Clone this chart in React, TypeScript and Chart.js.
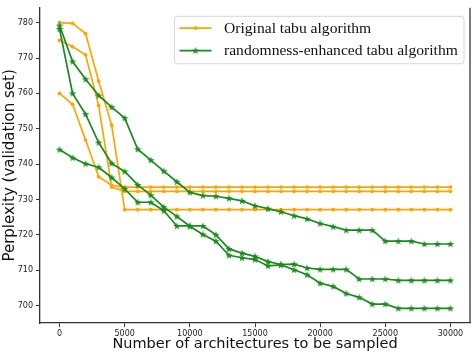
import React, { useEffect, useRef } from "react";
import { Chart, registerables } from "chart.js";

Chart.register(...registerables);

const xSamples = [
  0, 1000, 2000, 3000, 4000, 5000, 6000, 7000, 8000, 9000, 10000, 11000, 12000,
  13000, 14000, 15000, 16000, 17000, 18000, 19000, 20000, 21000, 22000, 23000,
  24000, 25000, 26000, 27000, 28000, 29000, 30000,
];
const xTickValues = [0, 5000, 10000, 15000, 20000, 25000, 30000];
const yTickValues = [700, 710, 720, 730, 740, 750, 760, 770, 780];

const legendLabels = ["Original tabu algorithm", "randomness-enhanced tabu algorithm"];

const originalA = [
  780.0, 779.8, 776.9, 763.5, 751.0, 727.1, 727.1, 727.1, 727.1, 727.1, 727.1,
  727.1, 727.1, 727.1, 727.1, 727.1, 727.1, 727.1, 727.1, 727.1, 727.1, 727.1,
  727.1, 727.1, 727.1, 727.1, 727.1, 727.1, 727.1, 727.1, 727.1,
];
const originalB = [
  775.0, 773.2, 770.9, 756.6, 733.5, 732.3, 732.3, 732.3, 732.3, 732.3, 732.3,
  732.3, 732.3, 732.3, 732.3, 732.3, 732.3, 732.3, 732.3, 732.3, 732.3, 732.3,
  732.3, 732.3, 732.3, 732.3, 732.3, 732.3, 732.3, 732.3, 732.3,
];
const originalC = [
  760.0, 756.9, 746.8, 736.4, 734.0, 733.5, 733.5, 733.5, 733.5, 733.5, 733.5,
  733.5, 733.5, 733.5, 733.5, 733.5, 733.5, 733.5, 733.5, 733.5, 733.5, 733.5,
  733.5, 733.5, 733.5, 733.5, 733.5, 733.5, 733.5, 733.5, 733.5,
];

const enhancedA = [
  779.2, 769.0, 764.0, 759.4, 756.1, 753.0, 744.2, 741.1, 738.0, 735.0, 732.0,
  731.1, 730.9, 730.3, 729.6, 728.2, 727.4, 726.5, 725.4, 724.5, 723.2, 722.3,
  721.3, 721.3, 721.3, 718.2, 718.2, 718.2, 717.4, 717.4, 717.4,
];
const enhancedB = [
  744.1, 741.8, 740.1, 739.1, 736.2, 733.0, 729.2, 729.2, 726.8, 722.5, 722.5,
  722.5, 720.0, 716.0, 714.8, 713.9, 712.4, 711.6, 711.7, 710.6, 710.2, 710.2,
  710.2, 707.5, 707.5, 707.5, 707.1, 707.1, 707.1, 707.1, 707.1,
];
const enhancedC = [
  778.2, 760.0, 754.1, 746.1, 740.2, 737.9, 734.1, 731.2, 727.8, 725.2, 722.4,
  720.1, 718.2, 714.2, 713.5, 713.0, 711.2, 711.5, 710.1, 708.7, 706.3, 705.4,
  703.4, 702.3, 700.4, 700.4, 699.2, 699.2, 699.2, 699.2, 699.2,
];

const ORANGE = "#FFA500";
const GREEN = "#1C8A1C";
const AXIS = "#333333";

function makeStar(color: string, size: number): HTMLCanvasElement {
  const c = document.createElement("canvas");
  c.width = size;
  c.height = size;
  const ctx = c.getContext("2d")!;
  const cx = size / 2;
  const cy = size / 2 + 0.3;
  const R = size / 2;
  const r = R * 0.382;
  ctx.beginPath();
  for (let k = 0; k < 10; k++) {
    const ang = -Math.PI / 2 + (k * Math.PI) / 5;
    const rad = k % 2 === 0 ? R : r;
    const px = cx + rad * Math.cos(ang);
    const py = cy + rad * Math.sin(ang);
    if (k === 0) ctx.moveTo(px, py);
    else ctx.lineTo(px, py);
  }
  ctx.closePath();
  ctx.fillStyle = color;
  ctx.fill();
  return c;
}

export default function App() {
  const ref = useRef<HTMLCanvasElement>(null);

  useEffect(() => {
    document.body.style.margin = "0";
    const star = makeStar(GREEN, 8);

    const mk = (ys: number[], color: string, green: boolean, label: string) => ({
      label,
      data: xSamples.map((x, i) => ({ x, y: ys[i] })),
      borderColor: color,
      backgroundColor: color,
      borderWidth: 1.7,
      pointStyle: green ? (star as any) : "circle",
      pointRadius: green ? 4 : 1.9,
      pointBorderWidth: 0,
      pointBackgroundColor: color,
      order: green ? 0 : 1,
      tension: 0,
      fill: false,
    });

    const datasets = [
      mk(originalA, ORANGE, false, legendLabels[0]),
      mk(originalB, ORANGE, false, legendLabels[0]),
      mk(originalC, ORANGE, false, legendLabels[0]),
      mk(enhancedA, GREEN, true, legendLabels[1]),
      mk(enhancedB, GREEN, true, legendLabels[1]),
      mk(enhancedC, GREEN, true, legendLabels[1]),
    ];

    const frameAndLegend = {
      id: "frameAndLegend",
      afterDatasetsDraw(chart: any) {
        const { ctx, chartArea } = chart;
        ctx.save();
        // right spine
        ctx.strokeStyle = AXIS;
        ctx.lineWidth = 1.3;
        ctx.beginPath();
        ctx.moveTo(chartArea.right, chartArea.top);
        ctx.lineTo(chartArea.right, chartArea.bottom);
        ctx.stroke();

        // legend
        const bx = chartArea.right - 295.5;
        const by = chartArea.top + 8.5;
        const bw = 289.5;
        const bh = 47.5;
        ctx.beginPath();
        (ctx as any).roundRect(bx, by, bw, bh, 3);
        ctx.fillStyle = "rgba(255,255,255,0.85)";
        ctx.fill();
        ctx.strokeStyle = "#d6d6d6";
        ctx.lineWidth = 1;
        ctx.stroke();

        const entries = [
          { label: legendLabels[0], color: ORANGE, green: false, y: by + 11.8 },
          { label: legendLabels[1], color: GREEN, green: true, y: by + 34.3 },
        ];
        for (const e of entries) {
          const x0 = bx + 5;
          const x1 = bx + 37;
          ctx.strokeStyle = e.color;
          ctx.lineWidth = 1.7;
          ctx.beginPath();
          ctx.moveTo(x0, e.y);
          ctx.lineTo(x1, e.y);
          ctx.stroke();
          const mx = (x0 + x1) / 2;
          if (e.green) {
            ctx.drawImage(star, mx - 4, e.y - 4, 8, 8);
          } else {
            ctx.fillStyle = e.color;
            ctx.beginPath();
            ctx.arc(mx, e.y, 1.9, 0, Math.PI * 2);
            ctx.fill();
          }
          ctx.fillStyle = "#111";
          ctx.font = "15.6px 'Liberation Serif', 'Times New Roman', serif";
          ctx.textBaseline = "middle";
          ctx.textAlign = "left";
          ctx.fillText(e.label, bx + 49.5, e.y + 0.5);
        }
        ctx.restore();
      },
    };

    const chart = new Chart(ref.current!, {
      type: "line",
      data: { datasets: datasets as any },
      options: {
        animation: false,
        responsive: false,
        layout: { padding: { left: 0, right: 2, top: 0, bottom: 0 } },
        plugins: { legend: { display: false }, tooltip: { enabled: false } },
        scales: {
          x: {
            type: "linear",
            min: -1500,
            max: 31500,
            afterBuildTicks: (s: any) => {
              s.ticks = xTickValues.map((v) => ({ value: v }));
            },
            afterFit: (s: any) => {
              s.height = 30;
            },
            ticks: {
              font: { family: "'DejaVu Sans'", size: 8 },
              color: "#222",
              padding: 2,
              maxRotation: 0,
              autoSkip: false,
              callback: (v: any) => String(v),
            },
            grid: {
              drawOnChartArea: false,
              drawTicks: true,
              tickLength: 4,
              color: AXIS,
              lineWidth: 1,
            },
            border: { display: true, color: AXIS, width: 1.3 },
            title: {
              display: true,
              text: "Number of architectures to be sampled",
              font: { family: "'DejaVu Sans'", size: 14.5 },
              color: "#111",
              padding: { top: 0, bottom: 0 },
            },
          },
          y: {
            type: "linear",
            min: 695.05,
            max: 784.2,
            afterBuildTicks: (s: any) => {
              s.ticks = yTickValues.map((v) => ({ value: v }));
            },
            afterFit: (s: any) => {
              s.width = 40;
            },
            ticks: {
              font: { family: "'DejaVu Sans'", size: 8 },
              color: "#222",
              padding: 3,
              autoSkip: false,
              callback: (v: any) => String(v),
            },
            grid: {
              drawOnChartArea: false,
              drawTicks: true,
              tickLength: 4,
              color: AXIS,
              lineWidth: 1,
            },
            border: { display: true, color: AXIS, width: 1.3 },
            title: {
              display: true,
              text: "Perplexity (validation set)",
              font: { family: "'DejaVu Sans'", size: 15 },
              color: "#111",
              padding: { top: 1, bottom: 0 },
            },
          },
        },
      },
      plugins: [frameAndLegend],
    });

    return () => chart.destroy();
  }, []);

  return (
    <div style={{ position: "absolute", left: 0, top: 0, width: 474, height: 353, background: "#fff" }}>
      <canvas ref={ref} width={474} height={353} style={{ display: "block" }} />
    </div>
  );
}
